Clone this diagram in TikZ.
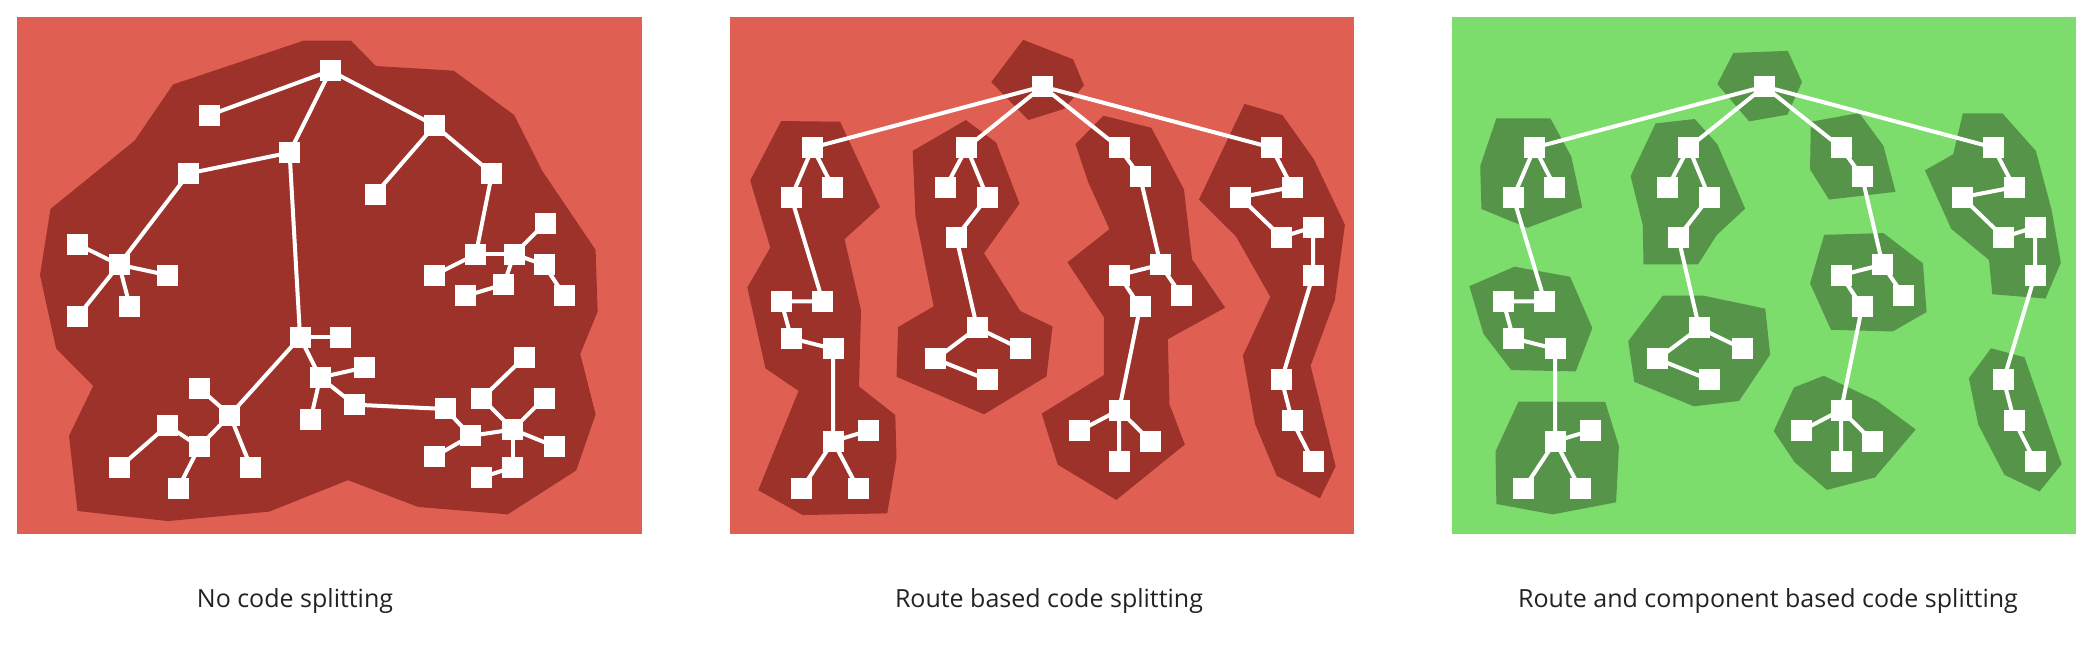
\documentclass[tikz,border=0pt]{standalone}
\usepackage{fontspec}
\setmainfont{Open Sans}
\usetikzlibrary{positioning}
\definecolor{redBg}{HTML}{DF6053}
\definecolor{redBlob}{HTML}{9D322A}
\definecolor{greenBg}{HTML}{7CDC6C}
\definecolor{greenBlob}{HTML}{56944A}
\definecolor{labelColor}{HTML}{222222}
\tikzset{
  mod/.style={rectangle, fill=white, minimum size=10.5pt, inner sep=0pt},
  link/.style={draw=white, line width=2pt},
  caption/.style={font=\fontsize{12.5}{15}\selectfont, text=labelColor}
}
% one route tree, #1 = prefix of the node names
\newcommand{\routetree}[1]{
  \node[mod] (#1R) at (775,213) {};
  \node[mod] (#1A) at (205,395) {};
  \node[mod] (#1A1) at (255,513) {};
  \node[mod] (#1A2) at (152,543) {};
  \node[mod] (#1A3) at (230,853) {};
  \node[mod] (#1A4) at (127,853) {};
  \node[mod] (#1A5) at (152,963) {};
  \node[mod] (#1A6) at (256,995) {};
  \node[mod] (#1A7) at (256,1270) {};
  \node[mod] (#1A8) at (344,1238) {};
  \node[mod] (#1A9) at (178,1412) {};
  \node[mod] (#1A10) at (318,1412) {};
  \node[mod] (#1B) at (587,395) {};
  \node[mod] (#1B1) at (535,513) {};
  \node[mod] (#1B2) at (638,543) {};
  \node[mod] (#1B3) at (561,662) {};
  \node[mod] (#1B4) at (613,932) {};
  \node[mod] (#1B5) at (720,994) {};
  \node[mod] (#1B6) at (510,1025) {};
  \node[mod] (#1B7) at (638,1087) {};
  \node[mod] (#1C) at (965,395) {};
  \node[mod] (#1C1) at (1017,482) {};
  \node[mod] (#1C2) at (1068,744) {};
  \node[mod] (#1C3) at (965,775) {};
  \node[mod] (#1C4) at (1120,837) {};
  \node[mod] (#1C5) at (1017,870) {};
  \node[mod] (#1C6) at (965,1177) {};
  \node[mod] (#1C7) at (868,1238) {};
  \node[mod] (#1C8) at (1043,1270) {};
  \node[mod] (#1C9) at (965,1330) {};
  \node[mod] (#1D) at (1343,395) {};
  \node[mod] (#1D1) at (1394,513) {};
  \node[mod] (#1D2) at (1265,543) {};
  \node[mod] (#1D3) at (1368,662) {};
  \node[mod] (#1D4) at (1446,632) {};
  \node[mod] (#1D5) at (1446,775) {};
  \node[mod] (#1D6) at (1368,1087) {};
  \node[mod] (#1D7) at (1394,1208) {};
  \node[mod] (#1D8) at (1446,1330) {};
  \draw[link] (#1R.center) -- (#1A.center) -- (#1A1.center);
  \draw[link] (#1A.center) -- (#1A2.center) -- (#1A3.center) -- (#1A4.center) -- (#1A5.center) -- (#1A6.center) -- (#1A7.center) -- (#1A8.center);
  \draw[link] (#1A9.center) -- (#1A7.center) -- (#1A10.center);
  \draw[link] (#1R.center) -- (#1B.center) -- (#1B1.center);
  \draw[link] (#1B.center) -- (#1B2.center) -- (#1B3.center) -- (#1B4.center) -- (#1B5.center);
  \draw[link] (#1B4.center) -- (#1B6.center) -- (#1B7.center);
  \draw[link] (#1R.center) -- (#1C.center) -- (#1C1.center) -- (#1C2.center) -- (#1C4.center);
  \draw[link] (#1C2.center) -- (#1C3.center) -- (#1C5.center) -- (#1C6.center) -- (#1C7.center);
  \draw[link] (#1C8.center) -- (#1C6.center) -- (#1C9.center);
  \draw[link] (#1R.center) -- (#1D.center) -- (#1D1.center) -- (#1D2.center) -- (#1D3.center) -- (#1D4.center) -- (#1D5.center) -- (#1D6.center) -- (#1D7.center) -- (#1D8.center);
}

\begin{document}
\begin{tikzpicture}[x=0.5pt,y=-0.5pt]
    \useasboundingbox (0,0) rectangle (2084,646);

    % Panel 1: no splitting
    \begin{scope}[shift={(15,15)},xscale=0.4032,yscale=0.3356]
      \fill[redBg] (5,5) rectangle (1555,1545);
      \fill[redBlob] (717,76) -- (833,76) -- (895,152) -- (1088,166) -- (1238,298) -- (1308,465) -- (1440,700) -- (1445,884) -- (1402,1010) -- (1440,1190) -- (1392,1357) -- (1222,1488) -- (1000,1466) -- (826,1386) -- (630,1480) -- (379,1508) -- (155,1478) -- (134,1254) -- (194,1105) -- (102,994) -- (62,775) -- (88,578) -- (297,374) -- (392,207) -- cycle;
      \foreach \n/\x/\y in {r/782/166, a/483/298, b/681/410, c/1041/329, d/431/472, e/893/534, f/1183/472,
        g/258/744, g1/155/683, g2/378/775, g3/285/868, g4/155/899,
        h/707/960, h1/807/960, i/757/1080, i1/868/1050, i2/733/1205, i3/842/1161,
        j/533/1192, j1/457/1112, j2/585/1347, k/457/1286, k1/378/1223, k2/260/1347, k3/405/1410,
        l/1068/1174, m/1130/1254, m1/1040/1316,
        n/1235/1235, n1/1263/1020, n2/1158/1142, n3/1312/1142, n4/1338/1285, n5/1235/1347, n6/1158/1378,
        o/1143/713, o1/1040/775, p/1238/713, p1/1315/620, p2/1312/744, p3/1363/837, p4/1212/803, p5/1118/837}
        \node[mod] (\n) at (\x,\y) {};
      \foreach \s/\t in {r/a, r/b, r/c, b/d, b/h, c/e, c/f, d/g, g/g1, g/g2, g/g3, g/g4,
        f/o, o/o1, o/p, p/p1, p/p2, p2/p3, p/p4, p4/p5,
        h/h1, h/j, h/i, i/i1, i/i2, i/i3, i3/l, l/m, m/m1, m/n, n/n2, n2/n1, n/n3, n/n4, n/n5, n5/n6,
        j/j1, j/j2, j/k, k/k1, k1/k2, k/k3}
        \draw[link] (\s.center) -- (\t.center);
    \end{scope}

    % Panel 2: route based
    \begin{scope}[shift={(730,15)},xscale=0.4032,yscale=0.3356]
      \fill[redBg] (0,5) rectangle (1548,1545);
      \fill[redBlob] (727,74) -- (851,132) -- (878,210) -- (828,280) -- (740,313) -- (648,200) -- cycle;
      \fill[redBlob] (127,316) -- (273,318) -- (372,572) -- (284,668) -- (325,880) -- (320,1107) -- (410,1192) -- (413,1320) -- (390,1485) -- (180,1490) -- (70,1416) -- (170,1120) -- (88,1053) -- (43,812) -- (100,693) -- (50,493) -- cycle;
      \fill[redBlob] (585,313) -- (660,380) -- (718,562) -- (630,710) -- (720,882) -- (800,928) -- (785,1077) -- (630,1190) -- (413,1078) -- (417,930) -- (505,868) -- (460,600) -- (453,405) -- cycle;
      \fill[redBlob] (926,300) -- (1045,336) -- (1126,520) -- (1146,728) -- (1228,872) -- (1086,966) -- (1090,1160) -- (1128,1280) -- (958,1445) -- (813,1340) -- (773,1188) -- (927,1073) -- (927,900) -- (837,737) -- (941,638) -- (888,497) -- (857,385) -- cycle;
      \fill[redBlob] (1276,265) -- (1370,298) -- (1448,430) -- (1525,625) -- (1500,850) -- (1440,1045) -- (1502,1345) -- (1463,1440) -- (1356,1373) -- (1302,1218) -- (1272,1015) -- (1340,840) -- (1255,660) -- (1163,550) -- cycle;
      \routetree{q}
    \end{scope}

    % Panel 3: route and component based
    \begin{scope}[shift={(1452,15)},xscale=0.4032,yscale=0.3356]
      \fill[greenBg] (0,5) rectangle (1548,1545);
      \fill[greenBlob] (698,113) -- (833,107) -- (868,200) -- (832,297) -- (737,317) -- (658,206) -- cycle;
      \fill[greenBlob] (110,308) -- (244,308) -- (296,422) -- (323,573) -- (187,634) -- (73,578) -- (70,450) -- cycle;
      \fill[greenBlob] (155,750) -- (293,780) -- (348,933) -- (307,1062) -- (147,1058) -- (78,950) -- (43,808) -- cycle;
      \fill[greenBlob] (165,1152) -- (380,1153) -- (414,1285) -- (407,1452) -- (250,1488) -- (110,1457) -- (108,1300) -- cycle;
      \fill[greenBlob] (505,323) -- (602,310) -- (658,385) -- (727,577) -- (657,655) -- (610,743) -- (475,743) -- (473,625) -- (443,480) -- cycle;
      \fill[greenBlob] (523,836) -- (622,836) -- (777,875) -- (789,1012) -- (712,1150) -- (600,1166) -- (452,1093) -- (437,972) -- cycle;
      \fill[greenBlob] (890,318) -- (1010,292) -- (1070,390) -- (1100,527) -- (935,550) -- (888,460) -- cycle;
      \fill[greenBlob] (923,655) -- (1070,650) -- (1168,740) -- (1177,885) -- (1093,943) -- (940,938) -- (888,800) -- cycle;
      \fill[greenBlob] (848,1110) -- (922,1075) -- (1054,1150) -- (1150,1235) -- (1049,1378) -- (930,1415) -- (850,1333) -- (798,1240) -- cycle;
      \fill[greenBlob] (1267,293) -- (1365,293) -- (1448,405) -- (1487,580) -- (1510,738) -- (1472,845) -- (1340,832) -- (1332,730) -- (1238,637) -- (1173,463) -- (1243,415) -- cycle;
      \fill[greenBlob] (1337,993) -- (1420,1020) -- (1512,1338) -- (1457,1420) -- (1370,1370) -- (1305,1220) -- (1282,1082) -- cycle;
      \routetree{w}
    \end{scope}

    % Captions
    \node[caption] (capNone) at (295,601) {No code splitting};
    \node[caption] (capRoute) at (1049,601) {Route based code splitting};
    \node[caption] (capComp) at (1768,601) {Route and component based code splitting};
\end{tikzpicture}
\end{document}
